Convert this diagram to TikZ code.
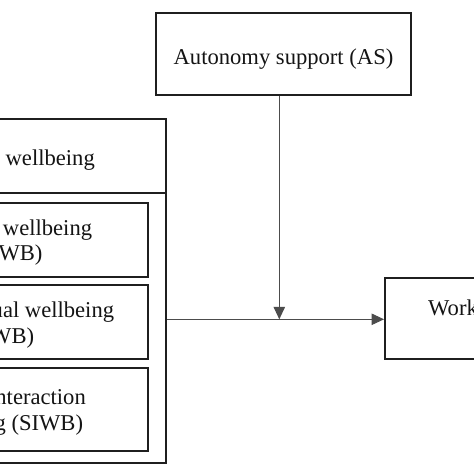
\documentclass[tikz,border=0pt]{standalone}
\usepackage{fontspec}
\setmainfont{Liberation Serif}
\usetikzlibrary{arrows.meta}
\tikzset{
  box/.style={draw=black!88, line width=2pt, rectangle, inner sep=0pt},
  lbl/.style={inner sep=0pt, text=black!92, font=\fontsize{22.6}{26}\selectfont},
  conn/.style={draw=black!70, line width=1pt},
  tip/.style={-{Triangle[length=12.5pt,width=11.5pt]}}
}
\begin{document}
\begin{tikzpicture}[x=1pt,y=-1pt]
\useasboundingbox (0,0) rectangle (474,474);
\fill[white] (0,0) rectangle (474,474);
\clip (0,0) rectangle (474,474);
% boxes
\node[box, minimum width=255pt, minimum height=81.7pt] (as) at (283.5,54.2) {};
\node[box, minimum width=186pt, minimum height=344.3pt] (outer) at (73,291.2) {};
\draw[box] (outer.west |- 0,192.7) coordinate (dl) -- (outer.east |- 0,192.7) coordinate (dr);
\node[box, minimum width=168.3pt, minimum height=74pt] (b1) at (64.2,239.7) {};
\node[box, minimum width=168.3pt, minimum height=74.3pt] (b2) at (64.2,322.2) {};
\node[box, minimum width=168.3pt, minimum height=83pt] (b3) at (64.2,409.2) {};
\node[box, minimum width=115pt, minimum height=81.6pt] (work) at (442.5,318.5) {};
% texts
\node[lbl, anchor=base] (tas) at (283.5,64.5) {Autonomy support (AS)};
\node[lbl, anchor=base east] (th) at (95,165.5) {wellbeing};
\node[lbl, anchor=base east] (t1a) at (92.3,235.7) {wellbeing};
\node[lbl, anchor=base east] (t1b) at (42.7,260.5) {WB)};
\node[lbl, anchor=base east] (t2a) at (114.3,317.5) {ual wellbeing};
\node[lbl, anchor=base east] (t2b) at (34.3,343) {WB)};
\node[lbl, anchor=base east] (t3a) at (86,404) {nteraction};
\node[lbl, anchor=base east] (t3b) at (83.3,430) {g (SIWB)};
\node[lbl, anchor=base west] (tw) at (428,315) {Work};
% connectors
\coordinate (m) at (279.3,319.3);
\draw[conn, tip] (outer.east |- m) -- (work.west |- m);
\draw[conn, tip] (as.south -| m) -- (m);
\end{tikzpicture}
\end{document}
